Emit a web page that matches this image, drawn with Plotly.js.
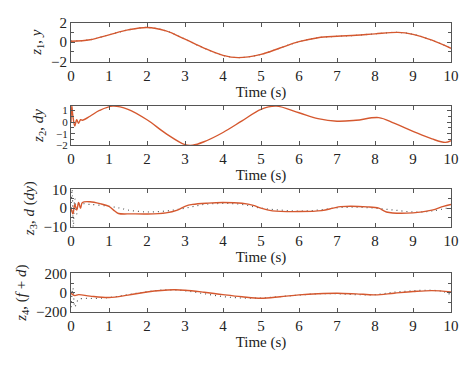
<!DOCTYPE html>
<html><head><meta charset="utf-8">
<script src="https://cdn.plot.ly/plotly-3.0.1.min.js"></script>
<style>html,body{margin:0;padding:0;background:#fff}</style>
</head><body><div id="g" style="width:474px;height:366px"></div>
<script>
// z1, y
const t1 = [0,0.5,1,1.5,2,2.5,3,3.5,4,4.4,5,5.5,6,6.5,7,7.5,8,8.6,9,9.5,10];
const z1 = [0.1,0.25,0.75,1.25,1.5,1.15,0.3,-0.6,-1.35,-1.58,-1.25,-0.6,0.05,0.45,0.6,0.7,0.85,1.0,0.8,0.2,-0.63];
// z2, dy
const t2 = [0,0.02,0.05,0.1,0.15,0.2,0.25,0.3,0.5,0.75,1.1,1.5,2,2.5,3.0,3.2,3.5,4,4.5,5,5.4,6,6.5,7,7.5,8.1,8.5,9,9.5,9.85,10];
const z2 = [0,1.4,0.5,-0.35,0.2,-0.1,0.2,0.15,0.5,1.0,1.37,1.1,0.2,-1.0,-1.95,-2.0,-1.7,-0.9,0.1,1.1,1.37,0.8,0.3,0.07,0.15,0.38,-0.1,-0.8,-1.45,-1.75,-1.6];
// z3 (solid) and d(dy) (dotted)
const t3 = [0,0.05,0.1,0.15,0.2,0.25,0.3,0.5,0.8,1.0,1.15,1.25,1.6,2,2.5,2.8,3.0,3.2,3.6,4,4.5,4.8,5.0,5.3,6,6.6,6.9,7.1,7.8,8.1,8.3,9,9.5,9.8,10];
const z3 = [0,-3,2,-1,3,0,3,3.4,2.2,1,-1.5,-2.8,-3.0,-3.1,-2.5,-1,1,2,2.7,3.0,2.6,1.5,0,-1.4,-1.8,-1.3,0,0.8,0.7,0,-2,-2.5,-1,1,2];
const td = [0,0.03,0.06,0.1,0.15,0.2,0.5,1,1.3,1.5,2,2.5,3,3.5,4,4.5,5,5.5,6,6.5,7,7.5,8,8.5,9,9.5,10];
const dd = [0,10,-10,5,-3,2,2,1,0,-1,-2,-1.5,0,2,2.5,2,0,-1,-1.5,-1,0.2,0.5,0,-1,-2,-1.5,0.5];
// z4 (solid) and f+d (dotted)
const t4 = [0,0.1,0.2,0.5,1,1.5,2,2.7,3,3.5,4,4.5,5,5.5,6,6.5,7,7.5,8,8.5,9,9.5,10];
const z4 = [-5,-30,-20,-35,-50,-25,8,30,26,5,-20,-42,-57,-42,-22,-10,-5,-12,-22,-5,12,22,8];
const tf = [0,0.05,0.1,0.15,0.2,0.3,0.5,1,1.5,2,2.5,3,3.5,4,4.5,5,5.5,6,6.5,7,7.5,8,8.5,9,9.5,9.8,10];
const fd = [-150,50,-150,-100,-70,-60,-60,-50,-20,10,30,20,-10,-40,-55,-55,-40,-25,-10,-10,-20,-20,5,20,25,10,-20];

const xt = [0,1,2,3,4,5,6,7,8,9,10];
const ytitles = ['<i>z</i><sub>1</sub>, <i>y</i>','<i>z</i><sub>2</sub>, <i>dy</i>','<i>z</i><sub>3</sub>, <i>d</i> (<i>dy</i>)','<i>z</i><sub>4</sub>, (<i>f</i> + <i>d</i>)'];

const red = '#d5582f';
const font = {family:'Liberation Serif', size:15, color:'#222'};
const font2 = {family:'Liberation Serif', size:11, color:'#222'};
function dotted(x,y,ax){return {x:x,y:y,xaxis:'x'+ax,yaxis:'y'+ax,mode:'lines',line:{color:'#555',width:1.2,dash:'1px,4px',shape:'spline'},hoverinfo:'none'};}
function solid(x,y,ax){return {x:x,y:y,xaxis:'x'+ax,yaxis:'y'+ax,mode:'lines',line:{color:red,width:1.4,shape:'spline'},hoverinfo:'none'};}
const data = [
  dotted(t1,z1,''), solid(t1,z1,''),
  solid(t2,z2,'2'),
  dotted(td,dd,'3'), solid(t3,z3,'3'),
  dotted(tf,fd,'4'), solid(t4,z4,'4')
];

const doms = [[0.863,0.998],[0.575,0.711],[0.293,0.423],[0.0,0.133]];
const yr = [[-2,2],[-2,1.4],[-10,10],[-200,200]];
const ydt = [2,1,10,200];
const ymin = [1,0.5,5,100];
function xa(i){return {domain:[0,1],range:[0,10],tickvals:xt,ticks:'inside',ticklen:4,mirror:'ticks',showline:true,linecolor:'#555',linewidth:1,tickcolor:'#555',showgrid:false,zeroline:false,anchor:i===0?'y':'y'+(i+1),title:{text:'Time (s)',font:font,standoff:1},tickfont:font};}
function ya(i){return {domain:doms[i],range:yr[i],dtick:ydt[i],tick0:0,ticks:'inside',ticklen:4,mirror:'ticks',showline:true,linecolor:'#555',linewidth:1,tickcolor:'#555',showgrid:false,zeroline:false,anchor:i===0?'x':'x'+(i+1),title:{text:ytitles[i],font:font,standoff:i===1?8:5},tickfont:i===1?font2:font,minor:{dtick:ymin[i],ticks:'inside',ticklen:3,tickcolor:'#555'}};}
const layout = {width:474,height:366,margin:{l:71,r:23,t:22,b:54},showlegend:false,paper_bgcolor:'#fff',plot_bgcolor:'#fff',font:font,
  xaxis:xa(0),yaxis:ya(0),xaxis2:xa(1),yaxis2:ya(1),xaxis3:xa(2),yaxis3:ya(2),xaxis4:xa(3),yaxis4:ya(3)};
Plotly.newPlot('g',data,layout,{staticPlot:true,displayModeBar:false});
</script></body></html>
